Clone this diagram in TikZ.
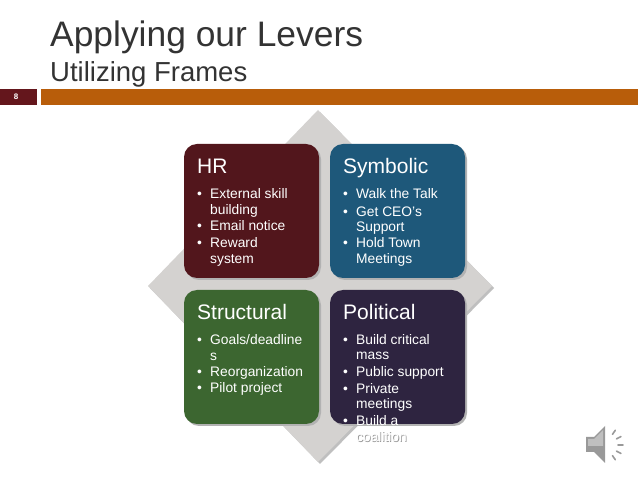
\documentclass[tikz,border=0pt]{standalone}
\usepackage{fontspec}
\setmainfont{Liberation Sans}
\definecolor{cnum}{RGB}{100,22,28}
\definecolor{cbar}{RGB}{184,93,10}
\definecolor{cdia}{RGB}{212,210,208}
\definecolor{chr}{RGB}{82,22,28}
\definecolor{csym}{RGB}{30,88,122}
\definecolor{cstr}{RGB}{60,102,48}
\definecolor{cpol}{RGB}{46,36,64}
\begin{document}
\begin{tikzpicture}[x=1pt,y=-1pt,
  card/.style={rounded corners=13pt,draw=none},
  ttl/.style={anchor=base west,text=white,font=\fontsize{21}{22}\selectfont,inner sep=0},
  bul/.style={anchor=base west,text=white,font=\fontsize{13.8}{15}\selectfont,inner sep=0},
  dot/.style={anchor=base west,text=white,font=\fontsize{13.8}{15}\selectfont,inner sep=0}]
\useasboundingbox (0,0) rectangle (638,478);
\fill[white] (0,0) rectangle (638,478);
\node[anchor=base west,inner sep=0,text=black!80,font=\fontsize{35.4}{37}\selectfont] (t1) at (50,47) {Applying our Levers};
\node[anchor=base west,inner sep=0,text=black!80,font=\fontsize{27.5}{29}\selectfont] (t2) at (50,82) {Utilizing Frames};
\fill[cnum] (0,89) rectangle (37,105);
\node[text=white,font=\bfseries\fontsize{8}{9}\selectfont] (num) at (16,97) {8};
\fill[cbar] (41,89) rectangle (638,105);
% diamond
\fill[black!25] (320,112) -- (494,288) -- (320,464) -- (150,288) -- cycle;
\fill[cdia] (318,110) -- (492,286) -- (318,462) -- (148,286) -- cycle;
% cards
\foreach \x/\y/\c in {184/144/chr,330/144/csym,184/290/cstr,330/290/cpol}{
  \fill[black!30,card] (\x+2,\y+2) rectangle (\x+137,\y+136);
  \fill[card,fill=\c] (\x,\y) rectangle (\x+135,\y+134);
}
\node[ttl] (hr) at (197,174) {HR};
\node[dot] at (197,199) {•};\node[bul] at (210,199) {External skill};\node[bul] at (210,215) {building};
\node[dot] at (197,231) {•};\node[bul] at (210,231) {Email notice};
\node[dot] at (197,248) {•};\node[bul] at (210,248) {Reward};\node[bul] at (210,264) {system};
\node[ttl] (sym) at (343,174) {Symbolic};
\node[dot] at (343,199) {•};\node[bul] at (356,199) {Walk the Talk};
\node[dot] at (343,217) {•};\node[bul] at (356,217) {Get CEO’s};\node[bul] at (356,232) {Support};
\node[dot] at (343,248) {•};\node[bul] at (356,248) {Hold Town};\node[bul] at (356,264) {Meetings};
\node[ttl] (str) at (197,320) {Structural};
\node[dot] at (197,345) {•};\node[bul] at (210,345) {Goals/deadline};\node[bul] at (210,361) {s};
\node[dot] at (197,377) {•};\node[bul] at (210,377) {Reorganization};
\node[dot] at (197,393) {•};\node[bul] at (210,393) {Pilot project};
\node[ttl] (pol) at (343,320) {Political};
\node[dot] at (343,345) {•};\node[bul] at (356,345) {Build critical};\node[bul] at (356,360) {mass};
\node[dot] at (343,377) {•};\node[bul] at (356,377) {Public support};
\node[dot] at (343,394) {•};\node[bul] at (356,394) {Private};\node[bul] at (356,409) {meetings};
\node[dot] at (343,426) {•};\node[bul] at (356,426) {Build a};
\node[bul,text=black!40] at (356.8,442.8) {coalition};
\node[bul] at (356,442) {coalition};
% speaker
\fill[black!40] (586,437) -- (594,437) -- (605,426) -- (605,463) -- (594,452) -- (586,452) -- cycle;
\fill[black!25] (588,439) -- (594,439) -- (603,430) -- (603,446) -- (588,446) -- cycle;
\foreach \a in {-55,-28,0,28,55}{
  \draw[black!40,line width=1.6pt,line cap=round] (605,445) ++(\a:13) -- ++(\a:5);
}
\end{tikzpicture}
\end{document}
